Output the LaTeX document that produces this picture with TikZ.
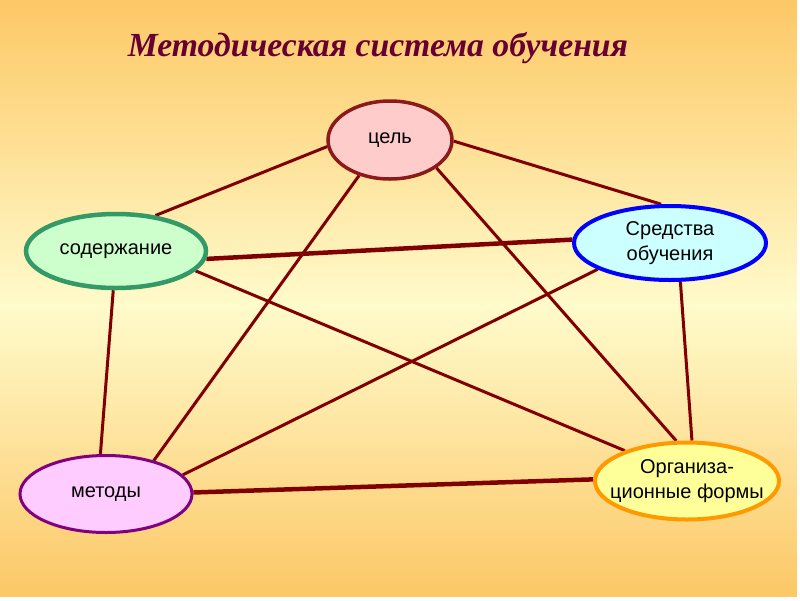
\documentclass[tikz,border=0pt]{standalone}
\usepackage{fontspec}
\setmainfont{Liberation Sans}
\newfontfamily\titlefont{Liberation Serif}
\usetikzlibrary{shapes.geometric}
\pgfdeclarelayer{bg}
\pgfdeclarelayer{lines}
\pgfsetlayers{bg,lines,main}
\definecolor{lnc}{HTML}{800000}
\definecolor{ttl}{HTML}{660033}
\definecolor{bgtop}{HTML}{FDC866}
\definecolor{bgmid}{HTML}{FFFBCB}
\definecolor{bgbot}{HTML}{FCC766}
\tikzset{
  oval/.style={ellipse, inner ysep=0pt, inner xsep=-30pt, font=\fontsize{20}{25}\selectfont, align=center, text=black},
  link/.style={draw=lnc, line width=3pt},
  biglink/.style={draw=lnc, line width=4.5pt},
}
\begin{document}
\begin{tikzpicture}[x=1pt,y=-1pt]
\begin{pgfonlayer}{bg}
\fill[white] (0,0) rectangle (800,600);
\foreach \i in {0,...,148} {
  \pgfmathsetmacro{\yy}{4*\i+2}
  \pgfmathtruncatemacro{\pa}{min(100,max(0,\yy/3.05))}
  \pgfmathtruncatemacro{\pb}{min(100,max(0,(\yy-305)/2.92))}
  \ifdim \yy pt<305pt
    \fill[bgmid!\pa!bgtop] (0,4*\i) rectangle (797,4*\i+4.6);
  \else
    \fill[bgbot!\pb!bgmid] (0,4*\i) rectangle (797,{min(597,4*\i+4.6)});
  \fi
}
\end{pgfonlayer}
\useasboundingbox (0,0) rectangle (800,600);

\node[text=ttl] (title) at (378,48) {\resizebox{500pt}{!}{\titlefont\bfseries\itshape Методическая система обучения}};

\node[oval, minimum width=124pt, minimum height=78pt, fill={rgb,255:red,255;green,204;blue,204}, draw={rgb,255:red,139;green,26;blue,26}, line width=3.5pt] (goal) at (390,140) {цель};
\node[oval, minimum width=180pt, minimum height=74pt, fill={rgb,255:red,204;green,255;blue,204}, draw={rgb,255:red,51;green,153;blue,102}, line width=4.5pt] (cont) at (116,251) {содержание};
\node[oval, minimum width=192pt, minimum height=74pt, fill={rgb,255:red,204;green,255;blue,255}, draw={rgb,255:red,0;green,0;blue,255}, line width=4pt] (means) at (670,243) {Средства\\обучения};
\node[oval, minimum width=172pt, minimum height=77pt, fill={rgb,255:red,255;green,204;blue,255}, draw={rgb,255:red,128;green,0;blue,128}, line width=3pt] (meth) at (106,494) {методы};
\node[oval, minimum width=184pt, minimum height=77pt, fill={rgb,255:red,255;green,255;blue,153}, draw={rgb,255:red,255;green,153;blue,0}, line width=4pt] (org) at (687,481) {Организа-\\ционные формы};

\begin{pgfonlayer}{lines}
\draw[link] (goal.186) -- (cont.42);
\draw[link] (goal.359) -- (means.103);
\draw[link] (goal.229) -- (meth.35);
\draw[link] (goal.329) -- (org.105);
\draw[biglink] (cont.355) -- (means.178);
\draw[link] (cont.346) -- (org.154);
\draw[link] (cont.266) -- (meth.98);
\draw[link] (means.200) -- (meth.14);
\draw[link] (means.285) -- (org.83);
\draw[biglink] (meth.1) -- (org.179);
\end{pgfonlayer}
\end{tikzpicture}
\end{document}
